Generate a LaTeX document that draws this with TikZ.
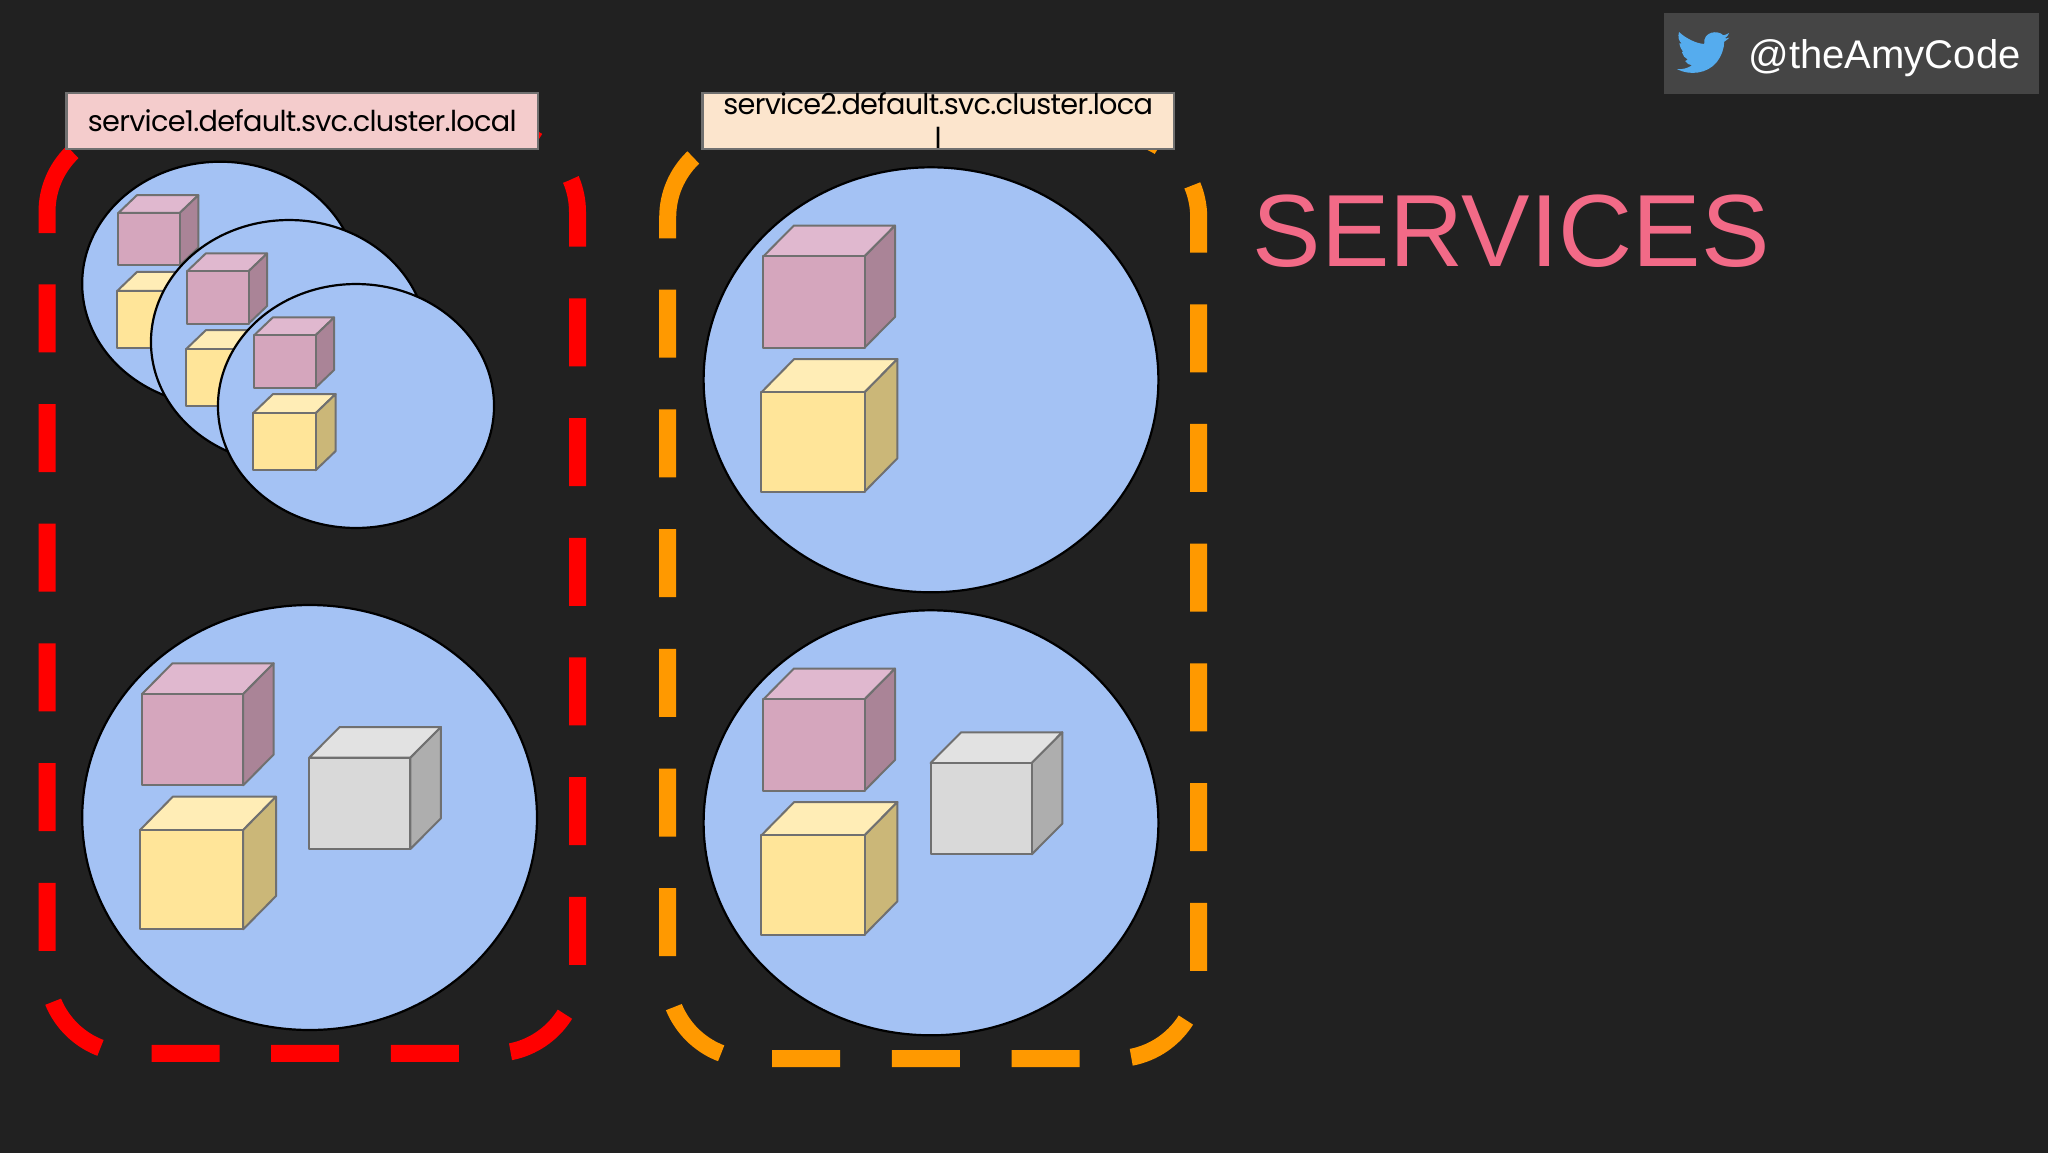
\documentclass[tikz,border=0pt]{standalone}
\usepackage{fontspec}
\setmainfont{Liberation Sans}
\newfontfamily\svcfont[LetterSpace=-2.5]{Poppins}
\usepackage{tikz}

\definecolor{bgdark}{HTML}{212121}
\definecolor{boxgrey}{HTML}{454545}
\definecolor{svcred}{HTML}{FF0000}
\definecolor{svcorange}{HTML}{FF9900}
\definecolor{podblue}{HTML}{A4C2F4}
\definecolor{edgegrey}{HTML}{707070}
\definecolor{labelrose}{HTML}{F4CCCC}
\definecolor{labelpeach}{HTML}{FCE5CD}
\definecolor{titlepink}{HTML}{F26A87}
\definecolor{birdblue}{HTML}{55ACEE}
\definecolor{pinkfront}{HTML}{D5A6BD}
\definecolor{pinktop}{HTML}{E0B8CF}
\definecolor{pinkside}{HTML}{AA8497}
\definecolor{yellowfront}{HTML}{FFE599}
\definecolor{yellowtop}{HTML}{FFEDB6}
\definecolor{yellowside}{HTML}{CBB778}
\definecolor{greyfront}{HTML}{D9D9D9}
\definecolor{greytop}{HTML}{E2E2E2}
\definecolor{greyside}{HTML}{AEAEAE}

\tikzset{
  svcbox/.style = {line width = 17pt, dash pattern = on 68pt off 51.7pt, rounded corners = 83pt},
  svcjoin/.style = {svcbox, dash pattern = on 88pt off 500pt},
  podline/.style = {draw = black, fill = podblue, line width = 2.2pt},
  cubeline/.style = {draw = edgegrey, line width = 2pt, line join = round},
  svclabel/.style = {draw = edgegrey, line width = 2.2pt, inner sep = 0pt, minimum width = 471.4pt,
    minimum height = 56.6pt, align = center, text = black, font = \svcfont\fontsize{28.75}{34}\selectfont}
}

% x and y of the front face corners, depth, colour prefix
\newcommand{\drawcube}[7]{
  \draw [cubeline, fill = #7top] (#1,#2) -- (#1+#5,#2-#6) -- (#3+#5,#2-#6) -- (#3,#2) -- cycle;
  \draw [cubeline, fill = #7side] (#3,#2) -- (#3+#5,#2-#6) -- (#3+#5,#4-#6) -- (#3,#4) -- cycle;
  \draw [cubeline, fill = #7front] (#1,#2) rectangle (#3,#4);
}
\newcommand{\drawpod}[4]{
  \begin{scope}[shift = {(#1,#2)}, xscale = #3, yscale = #4]
  \draw [podline] (0,0) ellipse (227.4 and 212.5);
  \drawcube{-167.6}{-123.5}{-66.4}{-32.2}{30.4}{30.7}{pink}
  \drawcube{-169.6}{12.5}{-66.4}{111.8}{32.8}{33.3}{yellow}
  \end{scope}
}

\begin{document}
\begin{tikzpicture}[x = 1pt, y = -1pt]
\useasboundingbox (0,0) rectangle (2048,1152);
\fill [bgdark] (-2,-2) rectangle (2050,1154);

% dashed outlines
\draw [svcbox, svcred] (47,284.3) -- (47,1053.3) -- (577.5,1053.3) -- (577.5,129) -- (200,129);
\draw [svcjoin, svcred] (47,233) -- (47,129) -- (200,129);
\draw [svcbox, svcorange] (667.7,289.7) -- (667.7,1058.7) -- (1198.7,1058.7) -- (1198.7,134.4) -- (820,134.4);
\draw [svcjoin, svcorange] (667.7,238.4) -- (667.7,134.4) -- (820,134.4);

% pods
\foreach \cx/\cy in {220.2/283.7, 289/342, 356/406}
  \drawpod{\cx}{\cy}{0.607}{0.574};
\drawpod{931}{379.8}{1}{1}
\foreach \cx/\cy in {309.6/817.5, 931/822.8} {
  \drawpod{\cx}{\cy}{1}{1}
  \begin{scope}[shift = {(\cx,\cy)}]
  \drawcube{-0.4}{-59.8}{100.8}{31.5}{30.5}{30.7}{grey}
  \end{scope}
}

% service labels
\node (labelone) [svclabel, fill = labelrose] at (302.2,121) {service1.default.svc.cluster.local};
\node (labeltwo) [svclabel, fill = labelpeach] at (938.2,121) {service2.default.svc.cluster.loca\\l};

\node (servicestitle) [anchor = base west, inner sep = 0pt, text = titlepink, font = \fontsize{102.6}{102.6}\selectfont] at (1252.5,266.7) {SERVICES};

% twitter badge
\node (badge) [fill = boxgrey, inner sep = 0pt, minimum width = 375pt, minimum height = 81pt] at (1851.5,53.5) {};
\node (handle) [anchor = base west, inner sep = 0pt, text = white, font = \fontsize{40}{40}\selectfont] at (1748.5,68) {@theAmyCode};
\begin{scope}[shift = {(1670,24)}, scale = 0.3226]
\fill [birdblue] (106,62) .. controls (80,60) and (50,45) .. (28,25)
  .. controls (24,38) and (26,52) .. (36,60) -- (29,60)
  .. controls (31,72) and (36,80) .. (40,85) -- (37,88)
  .. controls (40,98) and (46,106) .. (55,110) -- (47,115)
  .. controls (52,123) and (60,127) .. (68,128)
  .. controls (55,137) and (40,141) .. (22,140)
  .. controls (60,160) and (115,155) .. (145,118)
  .. controls (160,98) and (168,75) .. (168,55)
  .. controls (172,52) and (180,47) .. (184,42)
  .. controls (178,45) and (174,45) .. (170,44)
  .. controls (176,41) and (181,34) .. (183,28)
  .. controls (178,31) and (172,34) .. (165,35)
  .. controls (150,18) and (102,22) .. (106,62) -- cycle;
\end{scope}
\end{tikzpicture}
\end{document}
